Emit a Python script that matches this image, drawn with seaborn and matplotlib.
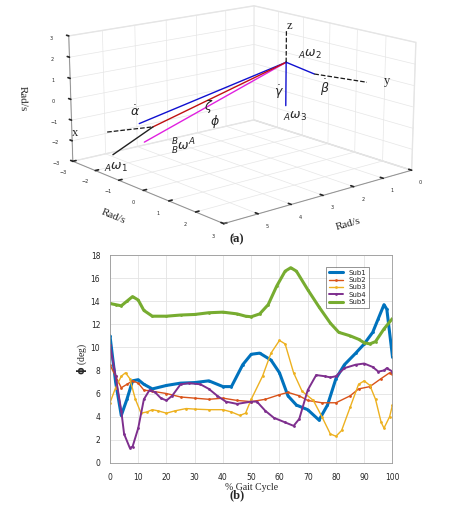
import numpy as np
import pandas as pd
import matplotlib
matplotlib.use("Agg")
import matplotlib.pyplot as plt
import seaborn as sns

sns.set_theme(style="whitegrid")
plt.rcParams['font.family'] = ['DejaVu Sans']

# ---- bottom panel data ----
x1 = [0,2,4,6,8,10,12,15,20,25,30,35,40,43,47,50,53,57,60,63,66,70,74,77,80,83,87,90,93,95,97,98,100]
y1 = [11,7,4.1,5.5,7.1,7.2,6.8,6.4,6.7,6.9,6.95,7.1,6.6,6.6,8.5,9.4,9.5,8.9,7.8,5.8,5.0,4.6,3.7,5.0,7.3,8.5,9.5,10.3,11.3,12.5,13.7,13.3,9.2]
x2 = [0,2,4,6,8,10,12,15,20,25,30,35,40,45,50,55,60,63,67,70,75,80,85,88,92,96,99,100]
y2 = [8.5,7.5,6.5,6.8,7.1,6.9,6.3,6.2,6.0,5.7,5.6,5.5,5.6,5.4,5.3,5.5,5.9,6.1,5.8,5.4,5.2,5.2,5.8,6.4,6.6,7.3,7.8,7.7]
x3 = [0,2,4,5.5,7,9,11,13,15,17,20,23,27,30,35,40,43,46,48,50,54,57,60,62,65,68,72,75,78,80,82,85,88,90,92,94,96,97,99,100]
y3 = [5.2,6.5,7.5,7.8,7.3,5.5,4.3,4.4,4.6,4.5,4.3,4.5,4.7,4.65,4.6,4.6,4.4,4.1,4.3,5.5,7.5,9.5,10.6,10.3,7.8,6.2,5.4,4.0,2.5,2.3,2.8,4.8,6.8,7.1,6.7,5.5,3.5,3.0,4.0,5.0]
x4 = [0,2,4,5,7,8,10,12,14,16,18,20,22,25,28,32,35,38,41,45,50,52,55,58,62,65,67,70,73,76,78,80,83,87,90,93,95,97,98,100]
y4 = [10.2,7.5,4.5,2.5,1.3,1.4,3.0,5.5,6.3,6.1,5.6,5.4,5.8,6.8,6.9,6.8,6.4,5.8,5.3,5.1,5.3,5.3,4.5,3.9,3.5,3.2,3.8,6.3,7.6,7.5,7.4,7.5,8.2,8.5,8.6,8.3,7.9,8.0,8.2,7.9]
x5 = [0,2,4,6,8,10,12,15,20,25,30,35,40,45,48,50,53,56,59,62,64,66,70,74,78,81,85,88,90,92,94,97,100]
y5 = [13.8,13.7,13.6,14.0,14.4,14.1,13.2,12.7,12.7,12.8,12.85,13.0,13.05,12.9,12.7,12.65,12.9,13.7,15.3,16.6,16.9,16.6,15.0,13.5,12.1,11.3,11.0,10.7,10.4,10.3,10.5,11.6,12.5]
series = ["Sub1", "Sub2", "Sub3", "Sub4", "Sub5"]
colors = ["#0072BD", "#D95319", "#EDB120", "#7E2F8E", "#77AC30"]
widths = [2.2, 1.0, 1.0, 1.4, 2.2]

# ---- top panel (3D vectors) data ----
P = (0.0, 1.5, 1.5)          # common point
vec_start = [(-1.5, 5.0, -0.9), (-1.3, 5.0, -1.7), (-1.2, 4.8, -1.0), (-1.8, 5.6, -2.3), (0, 1.5, 1.5), (0, 1.5, 1.5)]
vec_end = [P, P, P, (-1.2, 4.8, -1.0), (0, 1.5, -0.6), (0.4, 0.9, 0.9)]
vec_colors = ["#1010d0", "#e020e0", "#c01010", "#202020", "#1010d0", "#1010d0"]

fig = plt.figure(figsize=(4.74, 5.08), dpi=100)

ax3 = fig.add_axes([-0.06, 0.535, 1.12, 0.51], projection="3d")
ax3.view_init(elev=15, azim=-40)
ax3.set_box_aspect((1.3, 1.3, 0.7), zoom=1.38)
ax3.set_xlim(-3, 3); ax3.set_ylim(0, 6); ax3.set_zlim(-3, 3)
ax3.invert_yaxis()
for s, e, c in zip(vec_start, vec_end, vec_colors):
    ax3.plot([s[0], e[0]], [s[1], e[1]], [s[2], e[2]], color=c, lw=1.0)
ax3.plot([-2.0, -1.2], [6.2, 4.8], [-1.2, -1.0], "k--", lw=0.9)
ax3.plot([0, 0], [1.5, 1.5], [1.5, 3.0], "k--", lw=0.9)
ax3.plot([0.4, 1.2], [0.9, -0.3], [0.9, 0.4], "k--", lw=0.9)
ax3.set_xticks(range(-3, 4)); ax3.set_yticks(range(0, 7)); ax3.set_zticks(range(-3, 4))
ax3.tick_params(labelsize=3.5, pad=-3)
ax3.zaxis.set_ticks_position('upper')
ax3.zaxis.set_label_position('upper')
ax3.set_xlabel("Rad/s", family="Liberation Serif", fontsize=8, labelpad=-7)
ax3.set_ylabel("Rad/s", family="Liberation Serif", fontsize=8, labelpad=-7)
ax3.set_zlabel("Rad/s", family="Liberation Serif", fontsize=8, labelpad=-7)
for a in (ax3.xaxis, ax3.yaxis, ax3.zaxis):
    a.pane.fill = False
    a.pane.set_edgecolor("#cccccc")
    a.line.set_color("#888888"); a.line.set_linewidth(0.6)
    a._axinfo["grid"]["color"] = "#e6e6e6"
    a._axinfo["grid"]["linewidth"] = 0.5
    a._axinfo["tick"]["inward_factor"] = 0.0
    a._axinfo["tick"]["outward_factor"] = 0.2
ser = dict(family="Liberation Serif", fontsize=9)
ax3.text(-2.4, 6.4, -1.4, "x", **ser)
ax3.text(0, 1.5, 3.1, "z", **ser)
ax3.text(1.4, -0.6, 0.3, "y", **ser)
ax3.text(-1.6, 5.2, -0.5, r"$\dot{\alpha}$", **ser)
ax3.text(-0.6, 3.5, -1.1, r"$\phi$", **ser)
ax3.text(-0.7, 3.6, -0.4, r"$\zeta$", **ser)
ax3.text(-1.0, 4.4, -2.2, r"$_B^B\omega^A$", **ser)
ax3.text(-1.9, 5.8, -3.0, r"$_A\omega_1$", **ser)
ax3.text(0.1, 1.2, 1.7, r"$_A\omega_2$", **ser)
ax3.text(0, 1.6, -1.2, r"$_A\omega_3$", **ser)
ax3.text(0, 1.9, 0.0, r"$\dot{\gamma}$", **ser)
ax3.text(0.5, 0.8, 0.0, r"$\dot{\beta}$", **ser)
fig.text(0.5, 0.524, "(a)", ha="center", family="Liberation Serif", fontsize=9, weight="bold")

# ---- bottom panel ----
ax = fig.add_axes([0.232, 0.089, 0.596, 0.409])
xs = [x1, x2, x3, x4, x5]; ys = [y1, y2, y3, y4, y5]
for name, xx, yy, c, w in zip(series, xs, ys, colors, widths):
    df = pd.DataFrame({"x": xx, "y": yy})
    sns.lineplot(data=df, x="x", y="y", ax=ax, color=c, lw=w, label=name,
                 marker="o", markersize=2, markeredgewidth=0)
ax.set_xlim(0, 100); ax.set_ylim(0, 18)
ax.set_xticks(range(0, 101, 10)); ax.set_yticks(range(0, 19, 2))
ax.tick_params(labelsize=5.5, pad=1)
ax.set_xlabel("% Gait Cycle", family="Liberation Serif", fontsize=7, labelpad=1)
ax.set_ylabel(r"$\mathbf{\phi}$ (deg)", family="Liberation Serif", fontsize=7, labelpad=1)
ax.grid(color="#e3e3e3", lw=0.6)
for sp in ax.spines.values():
    sp.set_color("#999999"); sp.set_linewidth(0.6)
leg = ax.legend(loc="upper right", fontsize=5, frameon=True, fancybox=False,
                edgecolor="#444444", bbox_to_anchor=(0.93, 0.96), handlelength=2.0,
                labelspacing=0.2, borderpad=0.4)
leg.get_frame().set_linewidth(0.5)
fig.text(0.5, 0.02, "(b)", ha="center", family="Liberation Serif", fontsize=9, weight="bold")

fig.savefig("out.png", dpi=100)
